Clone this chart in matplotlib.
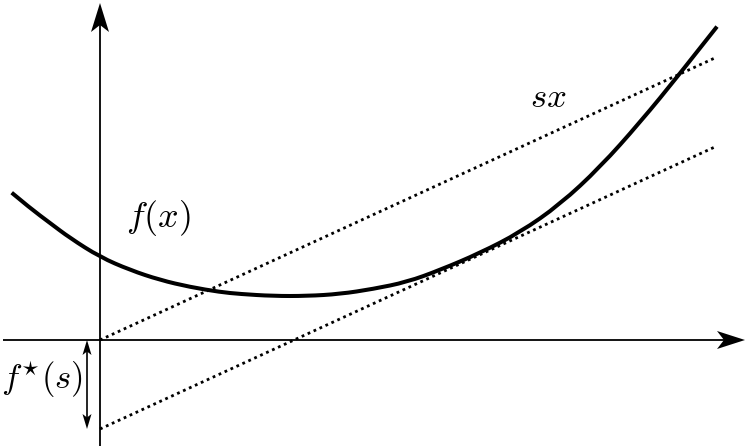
import matplotlib
matplotlib.use("Agg")
import matplotlib.pyplot as plt
from matplotlib.patches import Polygon, PathPatch
from matplotlib.path import Path
import numpy as np

plt.rcParams['mathtext.fontset'] = 'cm'

# curve f(x), points (math units, origin at axes crossing)
curve_x = [-0.883, -0.70, -0.50, -0.30, 0.00, 0.30, 0.60, 0.90, 1.20, 1.40,
           1.73, 2.07, 2.40, 2.73, 3.07, 3.40, 3.80, 4.20, 4.60, 5.00,
           5.40, 5.80, 6.17]
curve_y = [1.473, 1.32, 1.17, 1.02, 0.83, 0.70, 0.60, 0.53, 0.48, 0.46,
           0.44, 0.44, 0.46, 0.51, 0.58, 0.70, 0.87, 1.076, 1.356, 1.728,
           2.176, 2.664, 3.134]

# line sx and its shifted copy sx - f*(s)
slope_s = 0.4587
fstar_s = 0.89
line_x = [0.0, 6.17]

fig = plt.figure(figsize=(7.48, 4.46), dpi=100)
ax = fig.add_axes([0, 0, 1, 1])
ax.set_xlim(-1.0, 6.48)
ax.set_ylim(-1.06, 3.40)
ax.axis('off')


def stealth(ax, tip, direction, length, half_w, notch, lw=0):
    d = np.array(direction, float)
    d /= np.linalg.norm(d)
    n = np.array([-d[1], d[0]])
    tip = np.array(tip, float)
    base = tip - d * length
    pts = [tip, base + n * half_w, tip - d * (length - notch), base - n * half_w]
    ax.add_patch(Polygon(pts, closed=True, facecolor='black', edgecolor='black',
                         lw=lw, zorder=5))


def smooth_path(xs, ys):
    # quadratic B-spline rendering: read points are control points,
    # curve runs through midpoints; ends pinned to first/last points
    P = np.column_stack([xs, ys])
    verts = [P[0]]
    codes = [Path.MOVETO]
    for i in range(1, len(P) - 1):
        mid = (P[i] + P[i + 1]) / 2 if i < len(P) - 2 else P[i + 1]
        verts += [P[i], mid]
        codes += [Path.CURVE3, Path.CURVE3]
    return Path(verts, codes)


# axes
ax.plot([-0.97, 6.30], [0, 0], color='black', lw=1.3, solid_capstyle='butt')
stealth(ax, (6.45, 0), (1, 0), 0.28, 0.09, 0.07)
ax.plot([0, 0], [-1.10, 3.2], color='black', lw=1.3, solid_capstyle='butt')
stealth(ax, (0, 3.37), (0, 1), 0.29, 0.09, 0.07)

# curve
ax.add_patch(PathPatch(smooth_path(curve_x, curve_y), facecolor='none',
                       edgecolor='black', lw=2.9, capstyle='butt', zorder=4))

# dotted lines
lx = np.array(line_x)
dots = (0, (1.0, 1.35))
ax.plot(lx, slope_s * lx, color='black', lw=2.0, linestyle=dots,
        dash_capstyle='butt', zorder=3)
ax.plot(lx, slope_s * lx - fstar_s, color='black', lw=2.0, linestyle=dots,
        dash_capstyle='butt', zorder=3)

# double arrow for f*(s)
xa = -0.13
ax.plot([xa, xa], [-0.10, -fstar_s + 0.10], color='black', lw=1.2)
stealth(ax, (xa, 0.0), (0, 1), 0.15, 0.045, 0.035)
stealth(ax, (xa, -fstar_s), (0, -1), 0.15, 0.045, 0.035)

# labels
ax.text(0.58, 1.22, r'$f(x)$', fontsize=26, ha='center', va='center')
ax.text(4.48, 2.43, r'$sx$', fontsize=25, ha='center', va='center')
ax.text(-0.58, -0.40, r'$f^{\star}(s)$', fontsize=25, ha='center', va='center')

fig.savefig('out.png', dpi=100, facecolor='white')
